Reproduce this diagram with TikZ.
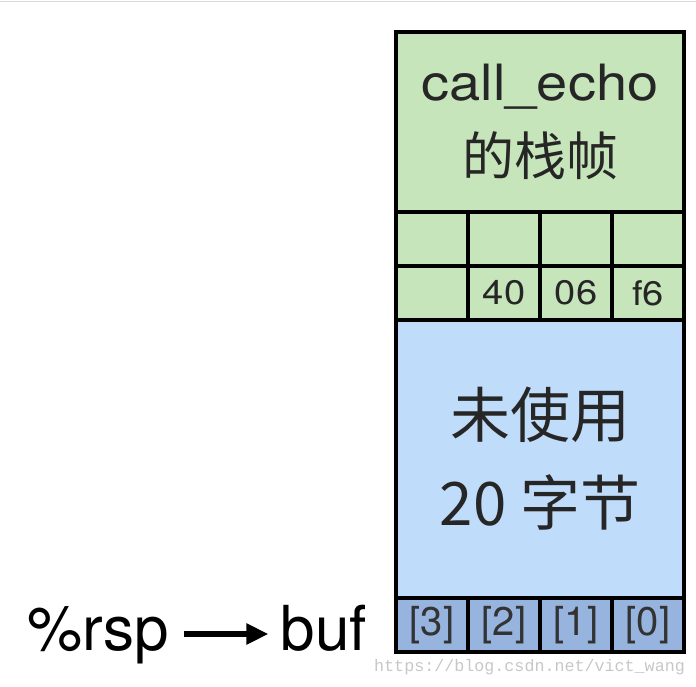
\documentclass[tikz,border=0pt]{standalone}
\usepackage{fontspec}
\setmainfont{TeX Gyre Heros}
\newfontfamily\cjk{Noto Sans CJK SC}
\newfontfamily\widefont[FakeStretch=1.12]{TeX Gyre Heros}
\newfontfamily\markfont{Liberation Mono}
\usetikzlibrary{positioning,arrows.meta}
\definecolor{framegreen}{RGB}{198,229,186}
\definecolor{unusedblue}{RGB}{191,220,250}
\definecolor{bufblue}{RGB}{150,180,222}

\begin{document}
\begin{tikzpicture}[
    x=1pt, y=-1pt,
    node distance=0pt,
    cell/.style={rectangle, draw, line width=4.5pt, outer sep=0pt, inner sep=0pt, minimum width=72pt, minimum height=54pt, fill=framegreen, text=black!85, font=\widefont\fontsize{34}{34}\selectfont},
    bufcell/.style={cell, fill=bufblue, text=black!80, font=\fontsize{40}{40}\selectfont},
    label/.style={inner sep=0pt, text height=46pt, text depth=14pt, font=\fontsize{62}{62}\selectfont},
    arrow/.style={-{Triangle[length=22pt,width=20pt]}, line width=6pt}
]
\useasboundingbox (0,0) rectangle (696,686);
\draw[gray!30, line width=1.5pt] (0,1.5) -- (696,1.5);

% stack frame of the caller
\node[cell, minimum width=288pt, minimum height=180pt, align=center, font=\fontsize{52}{75}\selectfont] (frame) at (540,122) {{\widefont\fontsize{50}{75}\selectfont call\_echo}\\{\cjk 的栈帧}};

% return address
\node[cell, below right=0pt and 0pt of frame.south west] (a1) {};
\node[cell, right=of a1] (a2) {};
\node[cell, right=of a2] (a3) {};
\node[cell, right=of a3] (a4) {};
\node[cell, below=of a1] (b1) {};
\node[cell, right=of b1] (b2) {40};
\node[cell, right=of b2] (b3) {06};
\node[cell, right=of b3] (b4) {f6};

% unused space and buf
\node[cell, fill=unusedblue, minimum width=288pt, minimum height=278pt, align=center, font=\cjk\fontsize{60}{88}\selectfont, below right=0pt and 0pt of b1.south west] (unused) {未使用\\20 字节};
\node[bufcell, below right=0pt and 0pt of unused.south west] (c3) {[3]};
\node[bufcell, right=of c3] (c2) {[2]};
\node[bufcell, right=of c2] (c1) {[1]};
\node[bufcell, right=of c1] (c0) {[0]};

\node[label, anchor=base west] (rsp) at (27,650) {\%rsp};
\node[label, anchor=base east] (buf) at (367,650) {buf};
\draw[arrow, shorten <=15pt, shorten >=12pt] (rsp) -- (buf);

\node[inner sep=0pt, anchor=base west, text=black!22, font=\markfont\fontsize{16.7}{16.7}\selectfont] (wm) at (374,671) {https://blog.csdn.net/vict\_wang};
\end{tikzpicture}
\end{document}
